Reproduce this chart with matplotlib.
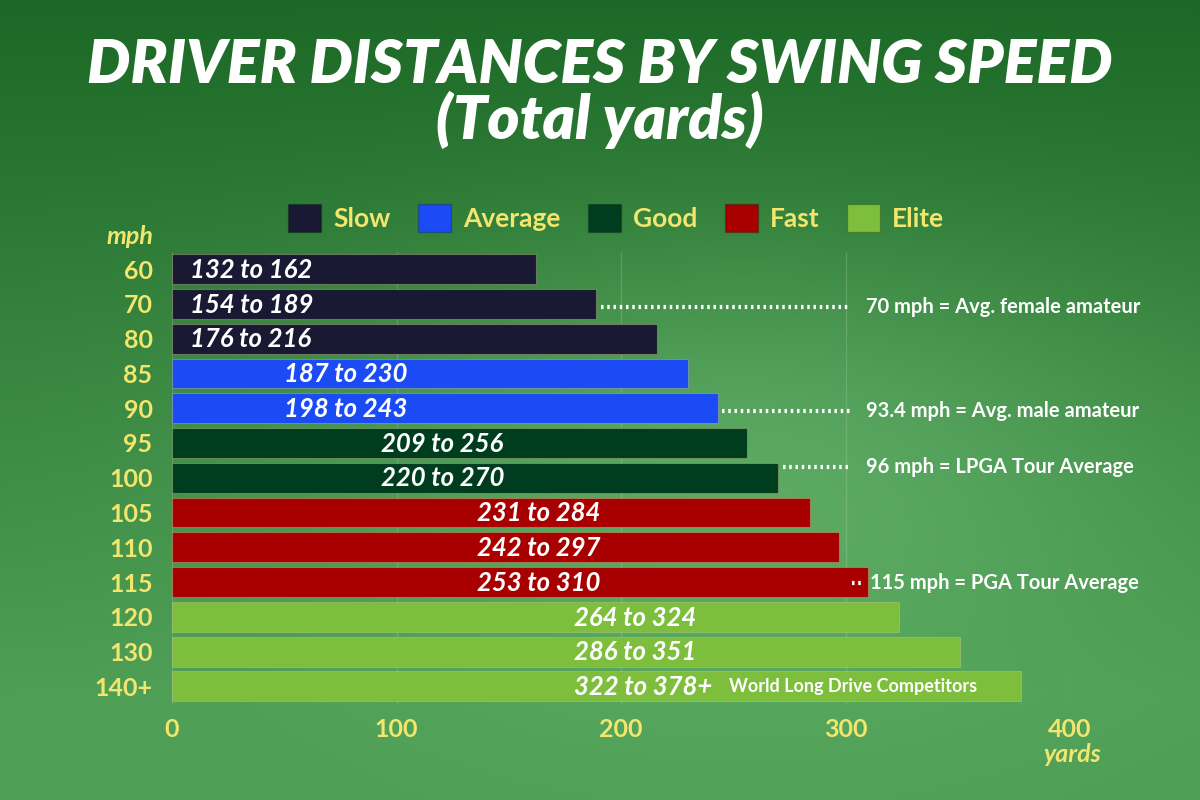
import numpy as np
import matplotlib
matplotlib.use("Agg")
import matplotlib.pyplot as plt
from matplotlib.patches import Patch

# data
speeds = ["60", "70", "80", "85", "90", "95", "100", "105", "110", "115", "120", "130", "140+"]
low = [132, 154, 176, 187, 198, 209, 220, 231, 242, 253, 264, 286, 322]
high = [162, 189, 216, 230, 243, 256, 270, 284, 297, 310, 324, 351, 378]
groups = ["Slow", "Slow", "Slow", "Average", "Average", "Good", "Good",
          "Fast", "Fast", "Fast", "Elite", "Elite", "Elite"]
group_names = ["Slow", "Average", "Good", "Fast", "Elite"]
group_colors = {"Slow": "#191933", "Average": "#1a4bf5", "Good": "#003d1f",
                "Fast": "#a80000", "Elite": "#7dbe3c"}
# where the range text starts inside each group's bars (yards)
label_start = {"Slow": 8, "Average": 50, "Good": 93, "Fast": 136, "Elite": 179}

# (row the dotted line starts from, row height of the note, text)
notes = [(1, 1.09, "70 mph = Avg. female amateur"),
         (4, 4.08, "93.4 mph = Avg. male amateur"),
         (6, 5.69, "96 mph = LPGA Tour Average"),
         (9, 9.02, "115 mph = PGA Tour Average")]

YELLOW = "#f2e66e"
plt.rcParams["font.family"] = ["Lato", "DejaVu Sans"]

fig = plt.figure(figsize=(12, 8), dpi=100)

# green gradient background
bg = fig.add_axes([0, 0, 1, 1])
yy, xx = np.mgrid[0:1:400j, 0:1:600j]
top = np.array([0x1c, 0x68, 0x26]) / 255
bot = np.array([0x4e, 0x9e, 0x55]) / 255
t = np.clip(yy * 1.15, 0, 1)[..., None]
img = top * (1 - t) + bot * t
glow = np.exp(-(((xx - 0.62) / 0.35) ** 2 + ((yy - 0.62) / 0.3) ** 2))[..., None]
img = img + (np.array([0x68, 0xb6, 0x6e]) / 255 - img) * glow * 0.7
bg.imshow(img, aspect="auto", extent=[0, 1, 1, 0])
bg.set_axis_off()

ax = fig.add_axes([172 / 1200, 0.1203, 898 / 1200, 0.565])
ax.patch.set_alpha(0)
ypos = np.arange(len(speeds))
colors = [group_colors[g] for g in groups]
ax.barh(ypos, high, height=0.86, color=colors, edgecolor=(0.85, 0.8, 0.6, 0.35),
        linewidth=0.8, zorder=3)
ax.set_xlim(0, 400)
ax.set_ylim(len(speeds) - 0.5, -0.5)

for i in range(len(speeds)):
    txt = f"{low[i]} to {high[i]}" + ("+" if speeds[i] == "140+" else "")
    ax.text(label_start[groups[i]], i + 0.02, txt, color="white", fontsize=18.5,
            fontstyle="italic", fontweight="bold", va="center", ha="left", zorder=4)

ax.text(248, 12, "World Long Drive Competitors", color="white", fontsize=13,
        fontweight="bold", va="center", ha="left", zorder=4)

for i, yn, note in notes:
    if i == 9:
        ax.plot([303, 307.5], [yn, yn], color="white", lw=3, ls=(0, (0.6, 0.9)), zorder=5)
        ax.text(311, yn, note, color="white", fontsize=14.5, fontweight="bold",
                va="center", ha="left", zorder=5)
    else:
        ax.plot([high[i] + 2, 302], [yn, yn], color="white", lw=3,
                ls=(0, (0.6, 0.9)), zorder=5)
        ax.text(309, yn, note, color="white", fontsize=14.5, fontweight="bold",
                va="center", ha="left", zorder=5)

ax.set_xticks([0, 100, 200, 300, 400])
ax.set_yticks(ypos)
ax.set_yticklabels(speeds)
ax.tick_params(axis="both", length=0, colors=YELLOW, labelsize=18)
ax.tick_params(axis="y", pad=14)
ax.tick_params(axis="x", pad=10)
for lab in ax.get_xticklabels() + ax.get_yticklabels():
    lab.set_fontweight("bold")
ax.grid(axis="x", color="white", alpha=0.15, lw=1, zorder=0)
for s in ax.spines.values():
    s.set_visible(False)

fig.text(130 / 1200, 1 - 236 / 800, "mph", color=YELLOW, fontsize=18,
         fontstyle="italic", fontweight="bold", ha="center", va="center")
fig.text(1072 / 1200, 1 - 755 / 800, "yards", color=YELLOW, fontsize=18,
         fontstyle="italic", fontweight="bold", ha="center", va="center")

fig.text(0.5, 1 - 65 / 800, "DRIVER DISTANCES BY SWING SPEED", color="white",
         fontsize=44, fontstyle="italic", fontweight="heavy", ha="center", va="center")
fig.text(0.5, 1 - 120 / 800, "(Total yards)", color="white",
         fontsize=44, fontstyle="italic", fontweight="heavy", ha="center", va="center")

handles = [Patch(facecolor=group_colors[g], edgecolor=(0, 0, 0, 0.2)) for g in group_names]
leg = fig.legend(handles, group_names, loc="center", bbox_to_anchor=(616 / 1200, 1 - 218 / 800),
                 ncol=5, frameon=False, fontsize=19, handlelength=1.25, handleheight=1.25,
                 handletextpad=0.45, columnspacing=1.05)
for txt in leg.get_texts():
    txt.set_color(YELLOW)
    txt.set_fontweight("bold")

fig.savefig("out.png", dpi=100)
